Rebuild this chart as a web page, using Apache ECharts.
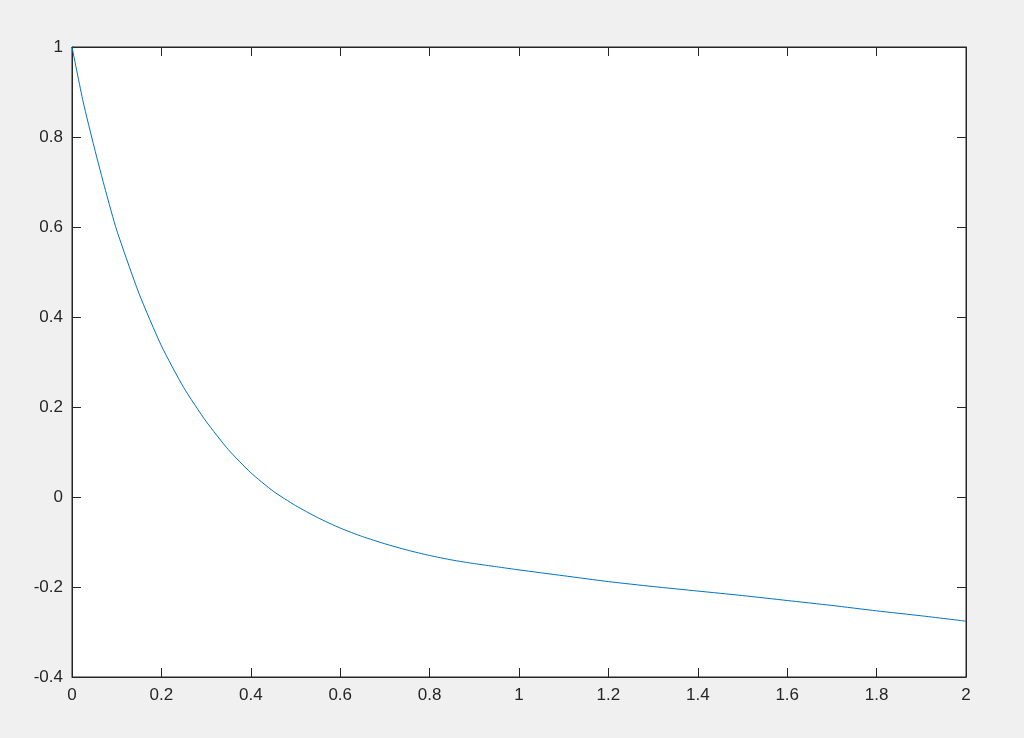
<!DOCTYPE html>
<html>
<head>
<meta charset="utf-8">
<script src="https://cdn.jsdelivr.net/npm/echarts@6/dist/echarts.min.js"></script>
<style>html,body{margin:0;padding:0;background:#f0f0f0;}#c{width:1024px;height:738px;}</style>
</head>
<body>
<div id="c"></div>
<script>
var xValues = [0, 0.025, 0.05, 0.075, 0.1, 0.15, 0.2, 0.25, 0.3, 0.35, 0.4, 0.45, 0.5, 0.55, 0.6, 0.65, 0.7, 0.75, 0.8, 0.85, 0.9, 0.95, 1.0, 1.1, 1.2, 1.3, 1.4, 1.5, 1.6, 1.7, 1.8, 1.9, 2.0];
var yValues = [1.0, 0.878, 0.776, 0.681, 0.593, 0.452, 0.336, 0.243, 0.168, 0.105, 0.054, 0.013, -0.019, -0.046, -0.069, -0.088, -0.104, -0.118, -0.130, -0.140, -0.148, -0.155, -0.162, -0.175, -0.188, -0.199, -0.209, -0.219, -0.230, -0.241, -0.253, -0.264, -0.276];
var xTicks = [0, 0.2, 0.4, 0.6, 0.8, 1, 1.2, 1.4, 1.6, 1.8, 2];
var yTicks = [-0.4, -0.2, 0, 0.2, 0.4, 0.6, 0.8, 1];

var data = xValues.map(function (x, i) { return [x, yValues[i]]; });
var axisColor = '#262626';
var font = { color: axisColor, fontSize: 17, fontFamily: 'Liberation Sans, Helvetica, Arial, sans-serif' };
function fmt(v) { return String(Math.round(v * 10) / 10); }

function axisCommon(extra) {
  return Object.assign({
    axisLine: { show: true, onZero: false, lineStyle: { color: axisColor, width: 1 } },
    axisTick: { show: true, inside: true, length: 9, lineStyle: { color: axisColor } },
    splitLine: { show: false }
  }, extra);
}

var chart = echarts.init(document.getElementById('c'), null, { renderer: 'canvas' });
chart.setOption({
  backgroundColor: '#f0f0f0',
  animation: false,
  grid: { left: 72, right: 58, top: 47, bottom: 61, show: true, backgroundColor: '#ffffff', borderColor: axisColor, borderWidth: 1 },
  xAxis: [
    axisCommon({ type: 'value', min: 0, max: 2, interval: 0.2, position: 'bottom',
      axisLabel: Object.assign({ margin: 10, formatter: fmt }, font) }),
    axisCommon({ type: 'value', min: 0, max: 2, interval: 0.2, position: 'top',
      axisLabel: { show: false } })
  ],
  yAxis: [
    axisCommon({ type: 'value', min: -0.4, max: 1, interval: 0.2, position: 'left',
      axisLabel: Object.assign({ margin: 9, formatter: fmt, padding: [5, 0, 0, 0] }, font) }),
    axisCommon({ type: 'value', min: -0.4, max: 1, interval: 0.2, position: 'right',
      axisLabel: { show: false } })
  ],
  series: [{
    type: 'line', data: data, xAxisIndex: 0, yAxisIndex: 0,
    showSymbol: false, smooth: 0.2,
    lineStyle: { color: '#0072BD', width: 1 }
  }]
});
</script>
</body>
</html>
